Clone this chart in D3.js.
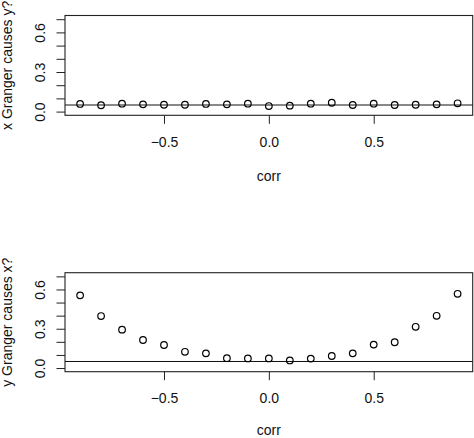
<!DOCTYPE html>
<html>
<head>
<meta charset="utf-8">
<script src="https://cdn.jsdelivr.net/npm/d3@7"></script>
<style>
  body{margin:0;background:#fff}
  svg{display:block}
  text{font-family:"Liberation Sans",Arial,sans-serif}
</style>
</head>
<body>
<svg id="chart" width="474" height="438"></svg>
<script>
// correlation values on the x axis
const corr=[-0.9,-0.8,-0.7,-0.6,-0.5,-0.4,-0.3,-0.2,-0.1,0.0,0.1,0.2,0.3,0.4,0.5,0.6,0.7,0.8,0.9]
// p-values
const xCausesY=[0.058,0.048,0.060,0.055,0.052,0.052,0.058,0.055,0.060,0.042,0.045,0.060,0.067,0.050,0.060,0.050,0.052,0.055,0.063]
const yCausesX=[0.555,0.397,0.293,0.214,0.176,0.124,0.112,0.075,0.073,0.073,0.058,0.072,0.092,0.112,0.179,0.197,0.315,0.399,0.567]
const xTicks=[-0.5,0,0.5]
const yTicks=[0,0.1,0.2,0.3,0.4,0.5,0.6,0.7]
const yLabelled=[0,0.3,0.6]
const cutoff=0.05

const svg=d3.select('#chart')
const fs=14
const fmt=d=>d3.format('.1f')(d).replace('-','\u2212')

const panels=[
  {values:xCausesY,title:'x Granger causes y?',top:15.5,bottom:115.3},
  {values:yCausesX,title:'y Granger causes x?',top:272.7,bottom:371.7}
]

const x=d3.scaleLinear().domain([-0.972,0.972]).range([65,472.7])

panels.forEach(p=>{
  const y=d3.scaleLinear().domain([-0.028,0.728]).range([p.bottom,p.top])
  const g=svg.append('g')

  // x axis
  const gx=g.append('g')
    .attr('transform','translate(0,'+p.bottom+')')
    .call(d3.axisBottom(x).tickValues(xTicks).tickSize(8.5).tickSizeOuter(0).tickFormat(fmt))
  gx.select('.domain').remove()
  gx.selectAll('line').attr('stroke','#222')
  gx.selectAll('text')
    .attr('y',31.3).attr('dy',null)
    .attr('font-size',fs).attr('fill','#111')

  // y axis
  const gy=g.append('g')
    .attr('transform','translate(65,0)')
    .call(d3.axisLeft(y).tickValues(yTicks).tickSize(8.5).tickSizeOuter(0)
      .tickFormat(d=>yLabelled.some(v=>Math.abs(v-d)<1e-9)?fmt(d):''))
  gy.select('.domain').remove()
  gy.selectAll('line').attr('stroke','#222')
  gy.selectAll('text')
    .attr('x',null).attr('dy',null)
    .attr('text-anchor','middle')
    .attr('transform','translate(-20.2,0) rotate(-90)')
    .attr('font-size',fs).attr('fill','#111')

  // box
  g.append('rect')
    .attr('x',x.range()[0]).attr('y',p.top)
    .attr('width',x.range()[1]-x.range()[0]).attr('height',p.bottom-p.top)
    .attr('fill','none').attr('stroke','#222').attr('stroke-width',1.1)

  // 0.05 reference line
  g.append('line')
    .attr('x1',x.range()[0]).attr('x2',x.range()[1])
    .attr('y1',y(cutoff)).attr('y2',y(cutoff))
    .attr('stroke','#111').attr('stroke-width',1)

  // points
  g.append('g').selectAll('circle')
    .data(corr.map((c,i)=>({c:c,v:p.values[i]})))
    .enter()
    .append('circle')
    .attr('cx',d=>x(d.c))
    .attr('cy',d=>y(d.v))
    .attr('r',3.3)
    .attr('fill','none')
    .attr('stroke','#000')
    .attr('stroke-width',1.2)

  // axis titles
  g.append('text')
    .attr('x',(x.range()[0]+x.range()[1])/2)
    .attr('y',Math.min(p.bottom+65.2,434.5))
    .attr('text-anchor','middle')
    .attr('font-size',fs).attr('fill','#111')
    .text('corr')
  g.append('text')
    .attr('transform','translate(12,'+((p.top+p.bottom)/2)+') rotate(-90)')
    .attr('text-anchor','middle')
    .attr('font-size',fs).attr('fill','#111')
    .text(p.title)
})
</script>
</body>
</html>
